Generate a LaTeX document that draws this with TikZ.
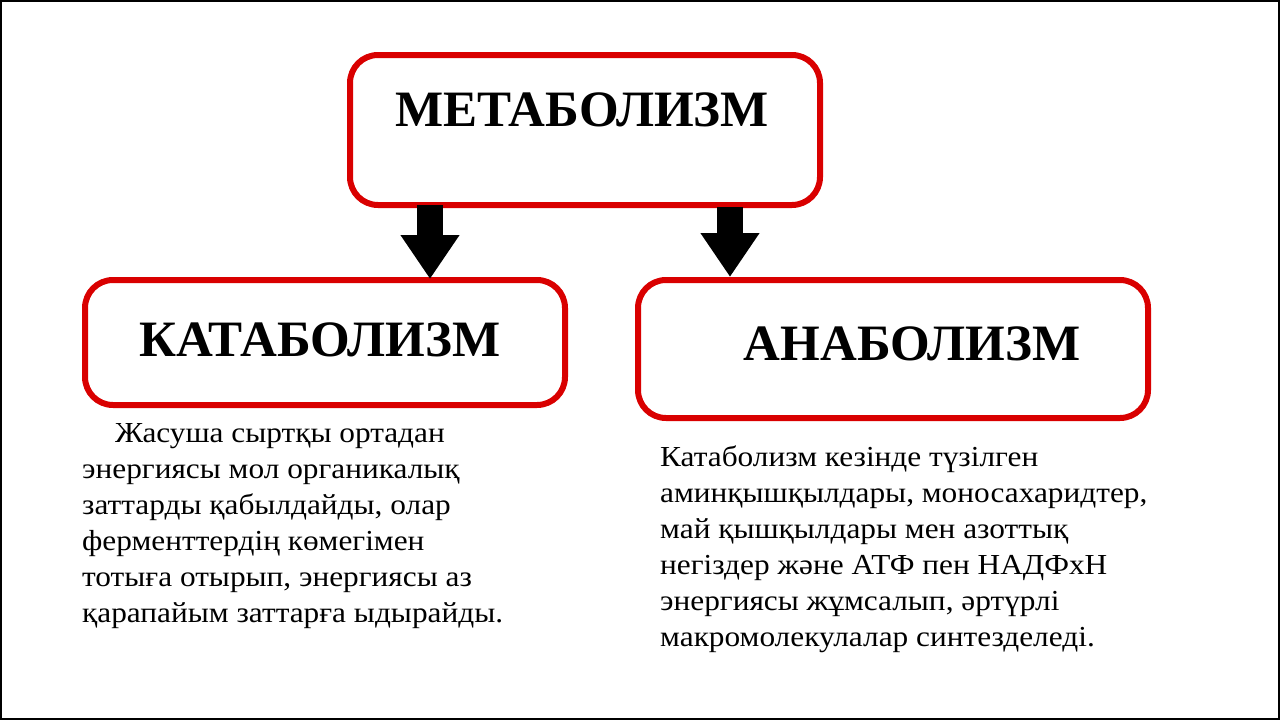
\documentclass[tikz,border=0pt]{standalone}
\usepackage{fontspec}
\setmainfont{Liberation Serif}
\usetikzlibrary{arrows.meta}
\begin{document}
\begin{tikzpicture}[x=1pt,y=1pt,
 box/.style={draw=red!85!black,line width=6pt,rounded corners=28pt,fill=white},
 title/.style={font=\fontsize{51}{56}\selectfont\bfseries},
 body/.style={font=\fontsize{29}{36}\selectfont\addfontfeature{FakeStretch=1.08},align=left,anchor=north west,inner sep=0pt},
 blk/.style={line width=26pt,-{Triangle[width=56pt,length=44pt]}}]
\useasboundingbox (0,0) rectangle (1280,-720);
\draw[line width=2pt] (1,-1) rectangle (1279,-719);
\draw[box] (350,-55) rectangle (820,-205);
\draw[box] (85,-280) rectangle (565,-405);
\draw[box] (638,-280) rectangle (1148,-418);
\node[title] (m) at (582,-110) {МЕТАБОЛИЗМ};
\node[title] (k) at (320,-340) {КАТАБОЛИЗМ};
\node[title] (a) at (912,-344) {АНАБОЛИЗМ};
\coordinate (m1) at (430,-205); \coordinate (k1) at (430,-279);
\coordinate (m2) at (730,-207); \coordinate (a1) at (730,-277);
\draw[blk] (m1) -- (k1);
\draw[blk] (m2) -- (a1);
\node[body] (kt) at (82,-423) {\hspace*{33pt}Жасуша сыртқы ортадан\\энергиясы мол органикалық\\заттарды қабылдайды, олар\\ферменттердің көмегімен\\тотыға отырып, энергиясы аз\\қарапайым заттарға ыдырайды.};
\node[body] (at) at (660,-446) {Катаболизм кезінде түзілген\\аминқышқылдары, моносахаридтер,\\май қышқылдары мен азоттық\\негіздер және АТФ пен НАДФхН\\энергиясы жұмсалып, әртүрлі\\макромолекулалар синтезделеді.};
\end{tikzpicture}
\end{document}
